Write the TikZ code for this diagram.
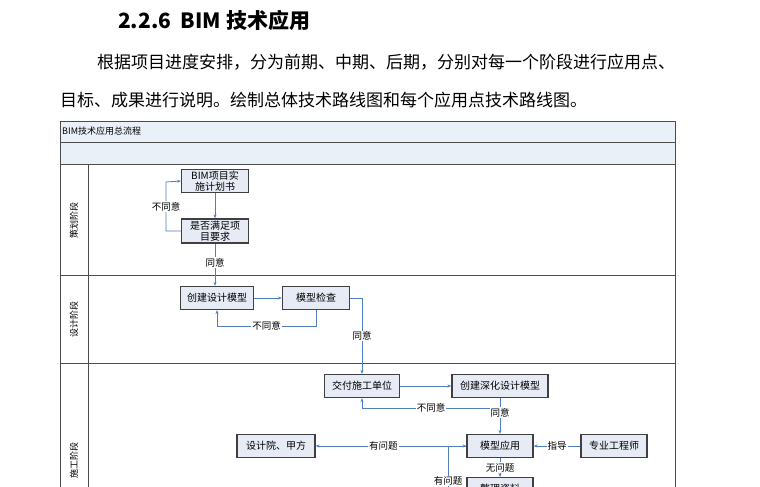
\documentclass[tikz,border=0pt]{standalone}
\usepackage{fontspec}
\setmainfont{Noto Sans CJK SC}
\usetikzlibrary{positioning,arrows.meta}
\definecolor{boxfill}{HTML}{E6EBF5}
\definecolor{flow}{HTML}{4F7FC0}
\definecolor{headfill}{HTML}{EAF0F8}
\tikzset{
	box/.style={draw=black!75, line width=1.2pt, fill=boxfill, minimum height=23pt, inner sep=1pt, font=\fontsize{10}{11}\selectfont, align=center},
	flowline/.style={draw=flow, line width=0.8pt},
	flowarrow/.style={flowline, -{Stealth[length=4pt,width=3pt]}},
	lbl/.style={fill=white, inner sep=1pt, font=\fontsize{9.5}{10}\selectfont},
	lane/.style={rotate=90, font=\fontsize{9}{10}\selectfont}
}
\begin{document}
\begin{tikzpicture}[x=1pt,y=-1pt]
		\useasboundingbox (0,0) rectangle (760,487);
		\fill[white] (0,0) rectangle (760,487);
		\begin{scope}
		\clip (0,0) rectangle (760,487);
		% heading and text
		\node[font=\fontsize{21}{24}\selectfont\bfseries, anchor=west, inner sep=0] (title) at (118,20) {2.2.6\ \ BIM 技术应用};
		\node[font=\fontsize{17}{20}\selectfont, anchor=west, inner sep=0] (para1) at (97,62) {根据项目进度安排，分为前期、中期、后期，分别对每一个阶段进行应用点、};
		\node[font=\fontsize{17}{20}\selectfont, anchor=west, inner sep=0] (para2) at (60,100) {目标、成果进行说明。绘制总体技术路线图和每个应用点技术路线图。};
		
		% table
		\draw[fill=headfill, draw=black!70, line width=1pt] (60,121) rectangle (675,142);
		\draw[fill=headfill, draw=black!70, line width=1pt] (60,142) rectangle (675,164);
		\draw[draw=black!70, line width=1pt] (60,164) rectangle (675,275);
		\draw[draw=black!70, line width=1pt] (60,275) rectangle (675,363);
		\draw[draw=black!70, line width=1pt] (60,363) rectangle (675,500);
		\draw[draw=black!70, line width=1pt] (88,164) -- (88,500);
		\node[anchor=west, font=\fontsize{9}{10}\selectfont, inner sep=1pt] (tab) at (61,131) {BIM技术应用总流程};
		\node[lane] (lane1) at (74,220) {策划阶段};
		\node[lane] (lane2) at (74,319) {设计阶段};
		\node[lane] (lane3) at (74,460) {施工阶段};
		
		% boxes
		\node[box, minimum width=67pt, minimum height=23pt, inner sep=0pt] (plan) at (215,181) {BIM项目实\\施计划书};
		\node[box, minimum width=67pt, minimum height=24pt, inner sep=0pt] (check) at (215,231) {是否满足项\\目要求};
		\node[box, minimum width=73pt] (design) at (217,298) {创建设计模型};
		\node[box, minimum width=67pt] (review) at (316,298) {模型检查};
		\node[box, minimum width=75pt] (deliver) at (362,386) {交付施工单位};
		\node[box, minimum width=96pt] (deepen) at (500,386) {创建深化设计模型};
		\node[box, minimum width=66pt] (apply) at (500,446) {模型应用};
		\node[box, minimum width=78pt] (owner) at (276,446) {设计院、甲方};
		\node[box, minimum width=66pt] (expert) at (614,446) {专业工程师};
		\node[box, minimum width=66pt, anchor=north] (sort) at (500,477) {整理资料};
		
		% connectors
		\draw[flowarrow] (plan) -- (check);
		\draw[flowarrow] (check.west) -- (166,231) -- node[lbl] {不同意} (166,182) -- (plan.west);
		\draw[flowarrow] (check.south) -- node[lbl, pos=0.45] {同意} (design.north -| check.south);
		\draw[flowarrow] (design) -- (review);
		\draw[flowarrow] (review.south) -- (316,326) -- node[lbl] {不同意} (217,326) -- (design.south);
		\draw[flowarrow] (review.east) -- (362,298) -- node[lbl] {同意} (deliver.north);
		\draw[flowarrow] (deliver) -- (deepen);
		\draw[flowarrow] (deepen.south) -- (500,408) -- node[lbl] {不同意} (362,408) -- (deliver.south);
		\draw[flowarrow] (deepen.south) -- node[lbl, pos=0.4] {同意} (apply.north);
		\draw[flowarrow] (apply.west) -- node[lbl, pos=0.55] {有问题} (owner.east);
		\draw[flowarrow] (expert.west) -- node[lbl] {指导} (apply.east);
		\draw[flowarrow] (apply.south) -- node[lbl] {无问题} (sort.north);
		\coordinate (back) at (448,500);
		\draw[flowarrow] (back) -- node[lbl, pos=0.35] {有问题} (448,446) -- (apply.west);
		\end{scope}
\end{tikzpicture}
\end{document}
